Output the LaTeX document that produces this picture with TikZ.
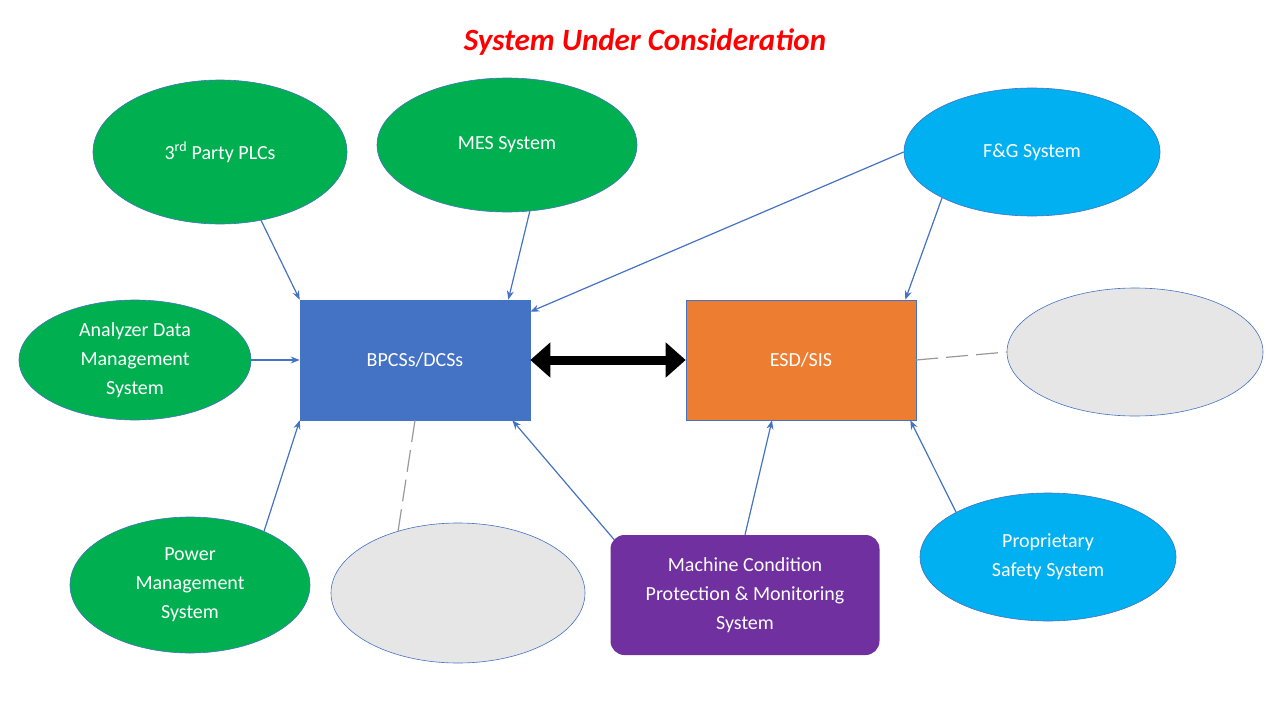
\documentclass[tikz,border=0pt]{standalone}
\usepackage{fontspec}
\setmainfont{Carlito}
\usetikzlibrary{shapes.geometric,arrows.meta}
\definecolor{grn}{HTML}{00B050}
\definecolor{cyn}{HTML}{00B0F0}
\definecolor{blu}{HTML}{4472C4}
\definecolor{org}{HTML}{ED7D31}
\definecolor{pur}{HTML}{7030A0}
\definecolor{gry}{HTML}{E7E6E6}
\begin{document}
\begin{tikzpicture}[x=1pt,y=-1pt,
 ell/.style={ellipse,draw=blu,line width=0.6pt,inner sep=0pt,text=white,align=center,font=\fontsize{20}{29}\selectfont},
 box/.style={rectangle,draw=blu,line width=0.6pt,minimum width=230,minimum height=120,text=white,align=center,font=\fontsize{20}{29}\selectfont},
 arr/.style={draw=blu,line width=1.2pt,-{Stealth[length=9pt,width=7pt]}},
 dsh/.style={draw=gray!80,line width=1.2pt,dash pattern=on 22pt off 8pt}]
\useasboundingbox (0,0) rectangle (1280,720);
\node[text=red,font=\fontsize{31}{36}\selectfont\bfseries\itshape] (t) at (645,42) {System Under Consideration};
\node[ell,fill=grn,minimum width=254,minimum height=144] (p) at (220,152) {3\textsuperscript{rd} Party PLCs};
\node[ell,fill=grn,minimum width=260,minimum height=134] (mes) at (507,145) {MES System};
\node[ell,fill=cyn,minimum width=256,minimum height=128] (fg) at (1032,152) {F\&G System};
\node[ell,fill=grn,minimum width=232,minimum height=120] (an) at (135,360) {Analyzer Data\\Management\\System};
\node[ell,fill=grn,minimum width=240,minimum height=136] (pw) at (190,585) {Power\\Management\\System};
\node[ell,fill=gry,minimum width=254,minimum height=140] (g1) at (458,593) {};
\node[ell,fill=gry,minimum width=256,minimum height=128] (g2) at (1135,352) {};
\node[ell,fill=cyn,minimum width=256,minimum height=128] (ps) at (1048,557) {Proprietary\\Safety System};
\node[box,fill=blu] (b) at (415,360) {BPCSs/DCSs};
\node[box,fill=org] (e) at (801,360) {ESD/SIS};
\node[rectangle,rounded corners=14pt,fill=pur,minimum width=269,minimum height=120,text=white,align=center,font=\fontsize{20}{29}\selectfont] (m) at (745,595) {Machine Condition\\Protection \& Monitoring\\System};
\draw[arr] (p.-59) -- (b.north west);
\draw[arr] (mes.-71) -- ([xshift=-22]b.north east);
\draw[arr] (fg.west) -- ([yshift=-12]b.north east);
\draw[arr] (fg.-153) -- ([xshift=-11]e.north east);
\draw[arr] (an.east) -- (b.west);
\draw[arr] (pw.36) -- (b.south west);
\draw[arr] ([xshift=4,yshift=-5]m.north west) -- ([xshift=-18]b.south east);
\draw[arr] (m.north) -- ([xshift=-29]e.south);
\draw[arr] (ps.154) -- ([xshift=-6]e.south east);
\draw[dsh] (b.south) -- (g1.134);
\draw[dsh] (e.east) -- (g2.west);
\draw[line width=9pt,{Triangle[length=20pt,width=34pt]}-{Triangle[length=20pt,width=34pt]}] (b.east) -- (e.west);
\end{tikzpicture}
\end{document}
